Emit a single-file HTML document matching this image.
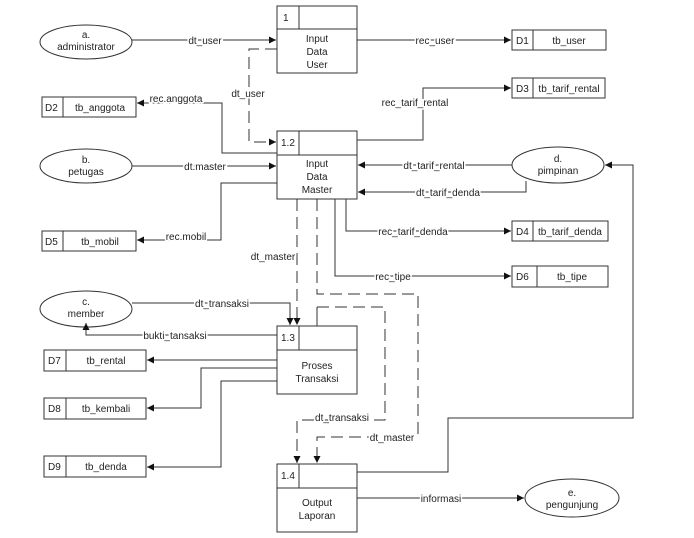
<!DOCTYPE html>
<html><head><meta charset="utf-8"><style>
html,body{margin:0;padding:0;background:#fff;}
svg{display:block;}
text{font-family:"Liberation Sans",Arial,sans-serif;font-size:10px;fill:#222;}
</style></head><body>
<svg width="694" height="538" viewBox="0 0 694 538" xmlns="http://www.w3.org/2000/svg">
<defs>
<marker id="a" markerWidth="8" markerHeight="8" refX="7" refY="4" orient="auto" markerUnits="userSpaceOnUse">
<path d="M0,0.5 L7,4 L0,7.5 Z" fill="#111"/></marker>
</defs>
<g fill="none" stroke="#333" stroke-width="1">
<!-- processes -->
<rect x="277" y="6" width="80" height="67"/><line x1="277" y1="29" x2="357" y2="29"/><line x1="299" y1="6" x2="299" y2="29"/>
<rect x="277" y="131" width="80" height="68"/><line x1="277" y1="155" x2="357" y2="155"/><line x1="299" y1="131" x2="299" y2="155"/>
<rect x="277" y="326" width="80" height="68"/><line x1="277" y1="350" x2="357" y2="350"/><line x1="299" y1="326" x2="299" y2="350"/>
<rect x="277" y="464" width="80" height="68"/><line x1="277" y1="488" x2="357" y2="488"/><line x1="299" y1="464" x2="299" y2="488"/>
<!-- ellipses -->
<ellipse cx="86" cy="42" rx="46" ry="17"/>
<ellipse cx="86" cy="166" rx="46" ry="17"/>
<ellipse cx="86" cy="309" rx="46" ry="18"/>
<ellipse cx="558" cy="165" rx="46" ry="18"/>
<ellipse cx="572" cy="498" rx="47" ry="19"/>
<!-- stores -->
<rect x="512" y="30" width="94" height="20"/><line x1="533" y1="30" x2="533" y2="50"/>
<rect x="512" y="78" width="93" height="20"/><line x1="533" y1="78" x2="533" y2="98"/>
<rect x="512" y="221" width="96" height="20"/><line x1="533" y1="221" x2="533" y2="241"/>
<rect x="512" y="266" width="96" height="21"/><line x1="537" y1="266" x2="537" y2="287"/>
<rect x="42" y="97" width="94" height="20"/><line x1="63" y1="97" x2="63" y2="117"/>
<rect x="42" y="231" width="94" height="20"/><line x1="63" y1="231" x2="63" y2="251"/>
<rect x="44" y="350" width="102" height="21"/><line x1="66" y1="350" x2="66" y2="371"/>
<rect x="44" y="398" width="102" height="21"/><line x1="66" y1="398" x2="66" y2="419"/>
<rect x="44" y="456" width="102" height="21"/><line x1="66" y1="456" x2="66" y2="477"/>
<!-- solid connectors -->
<path d="M132,40 H276" marker-end="url(#a)"/>
<path d="M357,40 H511" marker-end="url(#a)"/>
<path d="M277,153 H222 V103 H137" marker-end="url(#a)"/>
<path d="M132,166 H276" marker-end="url(#a)"/>
<path d="M277,183 H221 V240 H137" marker-end="url(#a)"/>
<path d="M357,140 H423 V88 H511" marker-end="url(#a)"/>
<path d="M512,165 H358" marker-end="url(#a)"/>
<path d="M526,181 V192 H358" marker-end="url(#a)"/>
<path d="M346,199 V231 H511" marker-end="url(#a)"/>
<path d="M335,199 V276 H511" marker-end="url(#a)"/>
<path d="M132,303 H290 V325" marker-end="url(#a)"/>
<path d="M277,335 H86 V323" marker-end="url(#a)"/>
<path d="M277,360 H147" marker-end="url(#a)"/>
<path d="M277,368 H201 V408 H147" marker-end="url(#a)"/>
<path d="M277,381 H221 V467 H147" marker-end="url(#a)"/>
<path d="M357,472 H448 V418 H633 V165 H605" marker-end="url(#a)"/>
<path d="M357,498 H524" marker-end="url(#a)"/>
<path d="M317,326 V307"/>
<!-- dashed -->
<g stroke-dasharray="12,6">
<path d="M277,49 H249 V142 H276" marker-end="url(#a)"/>
<path d="M297,199 V325" marker-end="url(#a)"/>
<path d="M317,199 V294 H418 V437 H317 V463" marker-end="url(#a)"/>
<path d="M317,307 H385 V420 H297 V463" marker-end="url(#a)"/>
</g>
</g>
<g text-anchor="middle">
<text x="86" y="38">a.</text><text x="86" y="50">administrator</text>
<text x="86" y="163">b.</text><text x="86" y="175">petugas</text>
<text x="86" y="305">c.</text><text x="86" y="317">member</text>
<text x="558" y="162">d.</text><text x="558" y="174">pimpinan</text>
<text x="572" y="496">e.</text><text x="572" y="508">pengunjung</text>
<text x="317" y="42">Input</text><text x="317" y="55">Data</text><text x="317" y="68">User</text>
<text x="317" y="167">Input</text><text x="317" y="180">Data</text><text x="317" y="193">Master</text>
<text x="317" y="369">Proses</text><text x="317" y="382">Transaksi</text>
<text x="317" y="506">Output</text><text x="317" y="519">Laporan</text>
<text x="569" y="44">tb_user</text>
<text x="569" y="92">tb_tarif_rental</text>
<text x="570" y="235">tb_tarif_denda</text>
<text x="572" y="280">tb_tipe</text>
<text x="100" y="111">tb_anggota</text>
<text x="100" y="245">tb_mobil</text>
<text x="106" y="364">tb_rental</text>
<text x="106" y="412">tb_kembali</text>
<text x="106" y="470">tb_denda</text>
</g>
<g>
<text x="283" y="21">1</text><text x="281" y="146">1.2</text><text x="281" y="341">1.3</text><text x="281" y="479">1.4</text>
<text x="516" y="44">D1</text><text x="516" y="92">D3</text><text x="516" y="235">D4</text><text x="516" y="280">D6</text>
<text x="45" y="111">D2</text><text x="45" y="245">D5</text>
<text x="48" y="364">D7</text><text x="48" y="412">D8</text><text x="48" y="470">D9</text>
</g>
<g text-anchor="middle">
<text x="205" y="44" style="paint-order:stroke" stroke="#fff" stroke-width="3">dt_user</text>
<text x="435" y="44" stroke="#fff" stroke-width="3" style="paint-order:stroke">rec_user</text>
<text x="248" y="97" stroke="#fff" stroke-width="3" style="paint-order:stroke">dt_user</text>
<text x="176" y="102" stroke="#fff" stroke-width="3" style="paint-order:stroke">rec.anggota</text>
<text x="205" y="170" stroke="#fff" stroke-width="3" style="paint-order:stroke">dt.master</text>
<text x="186" y="240" stroke="#fff" stroke-width="3" style="paint-order:stroke">rec.mobil</text>
<text x="415" y="106" stroke="#fff" stroke-width="3" style="paint-order:stroke">rec_tarif_rental</text>
<text x="434" y="169" stroke="#fff" stroke-width="3" style="paint-order:stroke">dt_tarif_rental</text>
<text x="448" y="196" stroke="#fff" stroke-width="3" style="paint-order:stroke">dt_tarif_denda</text>
<text x="413" y="235" stroke="#fff" stroke-width="3" style="paint-order:stroke">rec_tarif_denda</text>
<text x="393" y="280" stroke="#fff" stroke-width="3" style="paint-order:stroke">rec_tipe</text>
<text x="273" y="260" stroke="#fff" stroke-width="3" style="paint-order:stroke">dt_master</text>
<text x="222" y="307" stroke="#fff" stroke-width="3" style="paint-order:stroke">dt_transaksi</text>
<text x="175" y="339" stroke="#fff" stroke-width="3" style="paint-order:stroke">bukti_tansaksi</text>
<text x="342" y="421" stroke="#fff" stroke-width="3" style="paint-order:stroke">dt_transaksi</text>
<text x="392" y="441" stroke="#fff" stroke-width="3" style="paint-order:stroke">dt_master</text>
<text x="441" y="502" stroke="#fff" stroke-width="3" style="paint-order:stroke">informasi</text>
</g>
</svg>
</body></html>
